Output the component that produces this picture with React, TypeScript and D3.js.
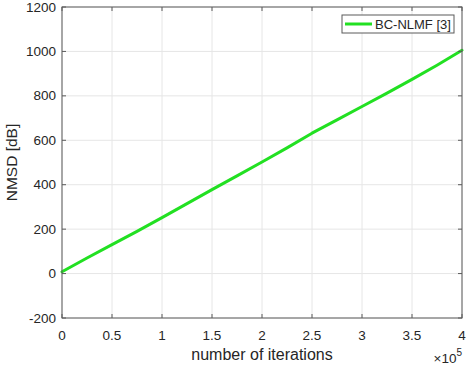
import React from "react";
import * as d3 from "d3";

const iterations = [0, 0.25, 0.5, 0.75, 1.0, 1.25, 1.5, 1.75, 2.0, 2.25, 2.5, 2.75, 3.0, 3.25, 3.5, 3.75, 4.0];
const nmsd = [8, 70, 130, 190, 252, 315, 378, 440, 502, 566, 632, 692, 752, 812, 874, 938, 1005];
const xTicks = [0, 0.5, 1, 1.5, 2, 2.5, 3, 3.5, 4];
const yTicks = [-200, 0, 200, 400, 600, 800, 1000, 1200];
const legendLabel = "BC-NLMF [3]";

const W = 474, H = 367;
const M = { left: 62, right: 12, top: 7, bottom: 49 };
const FONT = "'Liberation Sans', Arial, Helvetica, sans-serif";

export default function App() {
  const x = d3.scaleLinear().domain([0, 4]).range([M.left, W - M.right]);
  const y = d3.scaleLinear().domain([-200, 1200]).range([H - M.bottom, M.top]);
  const line = d3.line<number>().x((_, i) => x(iterations[i])).y((d) => y(d));
  const x0 = x.range()[0], x1 = x.range()[1], y0 = y.range()[0], y1 = y.range()[1];
  const tick = 4;
  const txt = "#262626";
  const axc = "#5a5a5a";
  return (
    <svg width={W} height={H} style={{ position: "absolute", left: 0, top: 0, background: "#fff" }}>
      <rect x={0} y={0} width={W} height={H} fill="#fff" />
      {xTicks.map((t) => (
        <line key={"gx" + t} x1={x(t)} x2={x(t)} y1={y1} y2={y0} stroke="#e6e6e6" strokeWidth={1} />
      ))}
      {yTicks.map((t) => (
        <line key={"gy" + t} x1={x0} x2={x1} y1={y(t)} y2={y(t)} stroke="#e6e6e6" strokeWidth={1} />
      ))}
      <path d={line(nmsd) || ""} fill="none" stroke="#22e022" strokeWidth={3} strokeLinejoin="round" strokeLinecap="round" />
      <rect x={x0} y={y1} width={x1 - x0} height={y0 - y1} fill="none" stroke={axc} strokeWidth={1} />
      {xTicks.map((t) => (
        <g key={"tx" + t}>
          <line x1={x(t)} x2={x(t)} y1={y0} y2={y0 - tick} stroke={axc} />
          <line x1={x(t)} x2={x(t)} y1={y1} y2={y1 + tick} stroke={axc} />
          <text x={x(t)} y={y0 + 22} textAnchor="middle" fontSize={13.5} fontFamily={FONT} fill={txt}>{t}</text>
        </g>
      ))}
      {yTicks.map((t) => (
        <g key={"ty" + t}>
          <line x1={x0} x2={x0 + tick} y1={y(t)} y2={y(t)} stroke={axc} />
          <line x1={x1} x2={x1 - tick} y1={y(t)} y2={y(t)} stroke={axc} />
          <text x={x0 - 6} y={y(t) + 4.5} textAnchor="end" fontSize={13.5} fontFamily={FONT} fill={txt}>{t}</text>
        </g>
      ))}
      <text x={(x0 + x1) / 2} y={360} textAnchor="middle" fontSize={16} fontFamily={FONT} fill={txt}>number of iterations</text>
      <text transform={`translate(17,${(y0 + y1) / 2}) rotate(-90)`} textAnchor="middle" fontSize={15.5} fontFamily={FONT} fill={txt}>NMSD [dB]</text>
      <text x={x1} y={363} textAnchor="end" fontSize={13.5} fontFamily={FONT} fill={txt}>
        ×10<tspan dy={-7} fontSize={10}>5</tspan>
      </text>
      <g>
        <rect x={342} y={15} width={112} height={18} fill="#fff" stroke={axc} strokeWidth={1} />
        <line x1={345} x2={372} y1={24} y2={24} stroke="#22e022" strokeWidth={3} />
        <text x={375} y={28.5} fontSize={13} fontFamily={FONT} fill={txt}>{legendLabel}</text>
      </g>
    </svg>
  );
}
